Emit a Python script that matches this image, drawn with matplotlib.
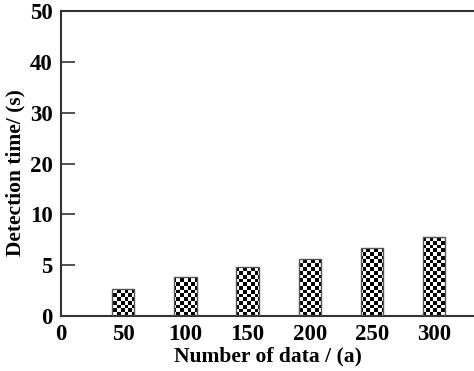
import numpy as np
import matplotlib
matplotlib.use("Agg")
import matplotlib.pyplot as plt

plt.rcParams['font.family'] = ['Liberation Serif', 'DejaVu Serif']
plt.rcParams['font.weight'] = 'bold'

# data
n_data = [50, 100, 150, 200, 250, 300]
det_time = [2.7, 3.8, 4.8, 5.65, 6.7, 7.8]
y_ticks = [0, 5, 10, 20, 30, 40, 50]
x_ticks = [0, 50, 100, 150, 200, 250, 300]

# piecewise y axis: 0-10 gets twice the room of each 10 above it
knots_in = [0, 10, 50]
knots_out = [0, 2, 6]


def fwd(v):
    return np.interp(v, knots_in, knots_out)


def inv(v):
    return np.interp(v, knots_out, knots_in)


fig = plt.figure(figsize=(4.74, 3.71), dpi=100)
ax = fig.add_axes([0.1287, 0.148, 0.8713, 0.822])
ax.set_yscale('function', functions=(fwd, inv))

bars = ax.bar(n_data, det_time, width=18, facecolor='none',
              edgecolor='#555555', linewidth=1.0, zorder=3)

# checkerboard fill, clipped to every bar
cell = 3.7
nx = int(ax.bbox.width / cell)
ny = int(ax.bbox.height / cell)
checker = (np.indices((ny, nx)).sum(axis=0) % 2).astype(float)
for b in bars:
    im = ax.imshow(checker, cmap='gray', extent=(0, 1, 0, 1), transform=ax.transAxes,
                   interpolation='nearest', aspect='auto', zorder=2, vmin=0, vmax=1)
    im.set_clip_path(b)

ax.set_xlim(0, 332)
ax.set_ylim(0, 50)
ax.set_yticks(y_ticks)
ax.set_xticks(x_ticks)
ax.set_xticklabels([str(v) for v in x_ticks])
ax.tick_params(axis='y', direction='in', length=10, width=1.2, labelsize=16.5, pad=6,
               color='#333333')
ax.tick_params(axis='x', length=0, labelsize=16.5, pad=6)

for s in ['left', 'bottom', 'top']:
    ax.spines[s].set_color('#333333')
    ax.spines[s].set_linewidth(1.5)
ax.spines['right'].set_visible(False)

ax.set_xlabel('Number of data / (a)', fontsize=15.5, fontweight='bold', labelpad=1)
ax.set_ylabel('Detection time/ (s)', fontsize=15.5, fontweight='bold')
ax.yaxis.set_label_coords(-0.085, 0.47)

fig.savefig('out.png', dpi=100)
